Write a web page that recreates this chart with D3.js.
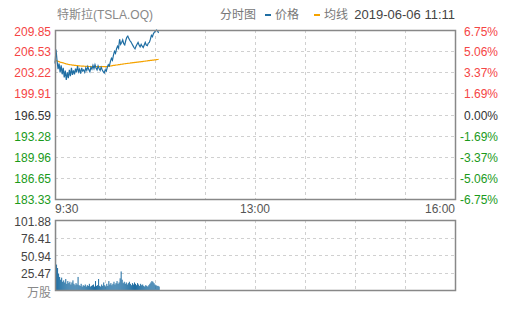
<!DOCTYPE html>
<html lang="zh">
<head>
<meta charset="UTF-8">
<title>TSLA</title>
<script src="https://cdn.jsdelivr.net/npm/d3@7"></script>
<style>
  body { margin: 0; background: #fff; }
  text { font-family: Arial, "Liberation Sans", "Noto Sans CJK SC", sans-serif; }
</style>
</head>
<body>
<div id="chart"></div>
<script>
// minute-by-minute data, 9:30 -> 11:11
var price = [
  204.6, 206.8, 205.0, 203.7, 204.6, 203.2, 204.3, 202.9, 203.9, 202.4,
  203.5, 202.0, 203.2, 202.3, 203.6, 202.6, 203.9, 202.8, 203.5, 202.9,
  203.8, 203.2, 204.2, 203.3, 203.7, 203.0, 203.9, 203.4, 203.6, 203.2,
  203.9, 203.5, 204.1, 203.6, 203.3, 204.0, 203.7, 204.3, 203.8, 204.4,
  203.9, 203.6, 204.2, 203.8, 203.5, 204.0, 203.6, 203.3, 203.1, 203.6,
  203.4, 204.0, 204.4, 204.2, 204.9, 205.4, 205.1, 205.9, 206.5, 206.2,
  206.9, 207.3, 207.0, 208.4, 207.6, 207.9, 208.3, 207.7, 207.5, 208.2,
  208.7, 208.9, 208.5, 208.2, 208.0, 207.7, 207.4, 207.1, 206.9, 207.3,
  207.6, 207.9, 207.5, 207.2, 207.6, 207.3, 207.1, 207.5, 207.9, 207.5,
  207.4, 207.8, 207.9, 208.4, 209.0, 208.8, 209.3, 209.5, 209.7, 209.85,
  209.7, 209.4
];
var avgPrice = [
  204.85, 205.05, 205.02, 204.92, 204.88, 204.82, 204.78, 204.72, 204.68, 204.63,
  204.58, 204.53, 204.50, 204.46, 204.43, 204.40, 204.38, 204.35, 204.33, 204.31,
  204.29, 204.27, 204.25, 204.23, 204.22, 204.20, 204.19, 204.18, 204.17, 204.16,
  204.15, 204.14, 204.13, 204.12, 204.12, 204.11, 204.11, 204.10, 204.10, 204.10,
  204.10, 204.10, 204.10, 204.09, 204.09, 204.09, 204.09, 204.10, 204.10, 204.11,
  204.10, 204.12, 204.14, 204.17, 204.20, 204.23, 204.26, 204.29, 204.31, 204.34,
  204.36, 204.38, 204.41, 204.43, 204.46, 204.48, 204.50, 204.52, 204.55, 204.57,
  204.59, 204.61, 204.63, 204.65, 204.68, 204.70, 204.72, 204.74, 204.76, 204.78,
  204.80, 204.82, 204.84, 204.86, 204.88, 204.90, 204.93, 204.95, 204.97, 204.99,
  205.01, 205.03, 205.05, 205.07, 205.09, 205.11, 205.13, 205.15, 205.17, 205.20,
  205.22, 205.25
];
var volume = [
  101.88, 37, 32, 24, 19, 15, 18, 12, 14, 11,
  16, 9, 13, 10, 12, 8, 11, 14, 9, 7,
  10, 8, 19, 7, 6, 9, 5, 7, 6, 8,
  5, 7, 6, 9, 5, 6, 7, 8, 5, 13,
  6, 7, 16, 6, 5, 8, 6, 11, 7, 5,
  9, 6, 13, 8, 10, 7, 9, 12, 8, 10,
  13, 9, 11, 17, 27, 15, 10, 12, 9, 11,
  8, 10, 12, 9, 7, 10, 8, 11, 9, 7,
  10, 8, 6, 9, 7, 8, 6, 5, 7, 6,
  5, 7, 9, 11, 13, 12, 10, 8, 7, 6,
  6, 5
];

var preClose = 196.59;
var priceTicks = [209.85, 206.53, 203.22, 199.91, 196.59, 193.28, 189.96, 186.65, 183.33];
var pctTicks = ["6.75%", "5.06%", "3.37%", "1.69%", "0.00%", "-1.69%", "-3.37%", "-5.06%", "-6.75%"];
var volTicks = [101.88, 76.41, 50.94, 25.47];
var timeLabels = ["9:30", "13:00", "16:00"];
var timeLabelPos = [0, 195, 390];   // label positions on the minute axis
var totalMinutes = 390;

var W = 505, H = 310;
var left = 55, right = 455;
var pTop = 30, pBottom = 199;
var vTop = 220, vBottom = 290;

var red = "#f54545", green = "#1a9a1a", dark = "#333";
var blue = "#1f6ea3", orange = "#f5a300";

var svg = d3.select("#chart").append("svg")
  .attr("width", W).attr("height", H);

var x = d3.scaleLinear().domain([0, totalMinutes]).range([left, right]);
var y = d3.scaleLinear().domain([183.33, 209.85]).range([pBottom, pTop]);
var yv = d3.scaleLinear().domain([0, 101.88]).range([vBottom, vTop]);

var vGrid = d3.range(1, 8).map(function(i) { return i * totalMinutes / 8; });

function colorFor(v) {
  if (Math.abs(v - preClose) < 0.01) return dark;
  return v > preClose ? red : green;
}

// ---- price panel grid
svg.append("g").selectAll("line").data(priceTicks.slice(1, -1)).enter().append("line")
  .attr("x1", left).attr("x2", right)
  .attr("y1", function(d) { return Math.round(y(d)) + 0.5; })
  .attr("y2", function(d) { return Math.round(y(d)) + 0.5; })
  .style("stroke", "#d0d0d0").style("stroke-dasharray", "3,3");
svg.append("g").selectAll("line").data(vGrid).enter().append("line")
  .attr("x1", function(d) { return Math.round(x(d)) + 0.5; })
  .attr("x2", function(d) { return Math.round(x(d)) + 0.5; })
  .attr("y1", pTop).attr("y2", pBottom)
  .style("stroke", "#d0d0d0").style("stroke-dasharray", "3,3");

// ---- volume panel grid
svg.append("g").selectAll("line").data(volTicks.slice(1)).enter().append("line")
  .attr("x1", left).attr("x2", right)
  .attr("y1", function(d) { return Math.round(yv(d)) + 0.5; })
  .attr("y2", function(d) { return Math.round(yv(d)) + 0.5; })
  .style("stroke", "#d0d0d0").style("stroke-dasharray", "3,3");
svg.append("g").selectAll("line").data(vGrid).enter().append("line")
  .attr("x1", function(d) { return Math.round(x(d)) + 0.5; })
  .attr("x2", function(d) { return Math.round(x(d)) + 0.5; })
  .attr("y1", vTop).attr("y2", vBottom)
  .style("stroke", "#d0d0d0").style("stroke-dasharray", "3,3");

// ---- volume bars
var bw = x(1) - x(0);
svg.append("g").selectAll("rect").data(volume).enter().append("rect")
  .attr("x", function(d, i) { return x(i); })
  .attr("y", function(d) { return yv(d); })
  .attr("width", bw)
  .attr("height", function(d) { return vBottom - yv(d); })
  .style("fill", blue);

// ---- lines
var line = d3.line()
  .x(function(d, i) { return x(i); })
  .y(function(d) { return y(d); });

svg.append("path").datum(avgPrice).attr("d", line)
  .style("fill", "none").style("stroke", orange).style("stroke-width", 1.2);
svg.append("path").datum(price).attr("d", line)
  .style("fill", "none").style("stroke", blue).style("stroke-width", 1.2);

// ---- frames
svg.append("rect").attr("x", left + 0.5).attr("y", pTop + 0.5)
  .attr("width", right - left).attr("height", pBottom - pTop)
  .style("fill", "none").style("stroke", "#888").style("stroke-width", 1.5);
svg.append("rect").attr("x", left + 0.5).attr("y", vTop + 0.5)
  .attr("width", right - left).attr("height", vBottom - vTop)
  .style("fill", "none").style("stroke", "#888").style("stroke-width", 1.5);

// ---- axis labels
svg.append("g").selectAll("text").data(priceTicks).enter().append("text")
  .attr("x", 51).attr("y", function(d, i) { return y(d) + (i === 0 ? 6 : 5); })
  .attr("text-anchor", "end").style("font-size", "12px")
  .style("fill", function(d) { return colorFor(d); })
  .text(function(d) { return d.toFixed(2); });

svg.append("g").selectAll("text").data(pctTicks).enter().append("text")
  .attr("x", 498).attr("y", function(d, i) { return y(priceTicks[i]) + (i === 0 ? 6 : 5); })
  .attr("text-anchor", "end").style("font-size", "12px")
  .style("fill", function(d, i) { return colorFor(priceTicks[i]); })
  .text(function(d) { return d; });

svg.append("g").selectAll("text").data(timeLabels).enter().append("text")
  .attr("x", function(d, i) { return x(timeLabelPos[i]); })
  .attr("y", 213)
  .attr("text-anchor", function(d, i) { return i === 0 ? "start" : (i === 2 ? "end" : "middle"); })
  .style("font-size", "12px").style("fill", "#555")
  .text(function(d) { return d; });

svg.append("g").selectAll("text").data(volTicks).enter().append("text")
  .attr("x", 51).attr("y", function(d) { return yv(d) + 5.5; })
  .attr("text-anchor", "end").style("font-size", "12px").style("fill", "#444")
  .text(function(d) { return d.toFixed(2); });
svg.append("text").attr("x", 51).attr("y", 297)
  .attr("text-anchor", "end").style("font-size", "12px").style("fill", "#888")
  .text("万股");

// ---- header
svg.append("text").attr("x", 57).attr("y", 19)
  .style("font-size", "12px").style("fill", "#888").text("特斯拉(TSLA.OQ)");
svg.append("text").attr("x", 220).attr("y", 19)
  .style("font-size", "12px").style("fill", "#777").text("分时图");
svg.append("line").attr("x1", 265).attr("x2", 271).attr("y1", 15).attr("y2", 15)
  .style("stroke", blue).style("stroke-width", 2);
svg.append("text").attr("x", 275).attr("y", 19)
  .style("font-size", "12px").style("fill", "#777").text("价格");
svg.append("line").attr("x1", 314).attr("x2", 320).attr("y1", 15).attr("y2", 15)
  .style("stroke", orange).style("stroke-width", 2);
svg.append("text").attr("x", 324).attr("y", 19)
  .style("font-size", "12px").style("fill", "#777").text("均线");
svg.append("text").attr("x", 455).attr("y", 19).attr("text-anchor", "end")
  .style("font-size", "13px").style("fill", "#444").text("2019-06-06 11:11");
</script>
</body>
</html>
